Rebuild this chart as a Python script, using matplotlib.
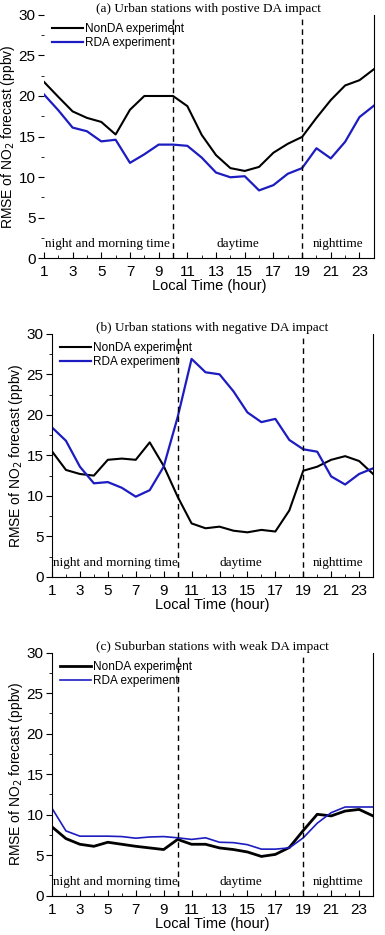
import numpy as np
import matplotlib
matplotlib.use("Agg")
import matplotlib.pyplot as plt
from matplotlib.ticker import MultipleLocator, FixedLocator

# Datos (RMSE de NO2, ppbv)
horas = np.arange(1, 25)
ticks_x = [1, 3, 5, 7, 9, 11, 13, 15, 17, 19, 21, 23]

titulos = ["(a) Urban stations with postive DA impact",
           "(b) Urban stations with negative DA impact",
           "(c) Suburban stations with weak DA impact"]

nonda_a = [21.75, 19.9, 18.1, 17.3, 16.8, 15.25, 18.3, 20.0, 20.0, 20.0, 18.75, 15.2,
           12.7, 11.1, 10.75, 11.25, 13.0, 14.1, 14.95, 17.3, 19.5, 21.3, 21.95, 23.3]
rda_a = [20.2, 18.25, 16.1, 15.65, 14.4, 14.6, 11.75, 12.8, 14.0, 14.0, 13.85, 12.4,
         10.55, 9.97, 10.1, 8.35, 9.0, 10.4, 11.1, 13.55, 12.3, 14.35, 17.4, 18.8]

nonda_b = [15.5, 13.2, 12.7, 12.5, 14.45, 14.6, 14.45, 16.6, 13.7, 9.9, 6.6, 6.0,
           6.2, 5.7, 5.5, 5.8, 5.6, 8.2, 13.1, 13.6, 14.45, 14.9, 14.3, 12.7]
rda_b = [18.45, 16.8, 13.6, 11.55, 11.7, 11.0, 9.9, 10.7, 13.6, 19.7, 26.9, 25.25,
         25.0, 22.9, 20.3, 19.1, 19.5, 16.9, 15.75, 15.45, 12.4, 11.4, 12.7, 13.4]

nonda_c = [8.5, 7.05, 6.35, 6.1, 6.6, 6.35, 6.1, 5.9, 5.7, 6.95, 6.35, 6.35,
           5.9, 5.7, 5.4, 4.85, 5.1, 5.95, 8.05, 10.05, 9.85, 10.45, 10.65, 9.85]
rda_c = [10.8, 8.0, 7.35, 7.35, 7.35, 7.3, 7.1, 7.25, 7.3, 7.15, 6.95, 7.15,
         6.6, 6.55, 6.3, 5.75, 5.75, 5.9, 7.15, 8.95, 10.25, 10.95, 10.95, 10.95]

etiquetas_periodo = ["night and morning time", "daytime", "nighttime"]
limites = [10, 19]

azul = "#1c1cc0"
sans = ["Liberation Sans", "DejaVu Sans"]
serif = ["Liberation Serif", "DejaVu Serif"]

fig = plt.figure(figsize=(3.85, 9.35), dpi=100)

posiciones = [[0.114, 0.724, 0.857, 0.260],
              [0.135, 0.383, 0.834, 0.260],
              [0.135, 0.042, 0.834, 0.260]]
datos = [(nonda_a, rda_a), (nonda_b, rda_b), (nonda_c, rda_c)]
grosor = [(1.5, 1.6), (1.5, 1.6), (2.0, 1.2)]

for k in range(3):
    ax = fig.add_axes(posiciones[k])
    n, r = datos[k]
    ax.plot(horas, n, color="black", lw=grosor[k][0], label="NonDA experiment")
    ax.plot(horas, r, color=azul, lw=grosor[k][1], label="RDA experiment")
    for xl in limites:
        ax.axvline(xl, color="black", lw=1.0, ls=(0, (4, 3)))
    ax.set_xlim(1, 24)
    ax.set_ylim(0, 30)
    ax.xaxis.set_major_locator(FixedLocator(ticks_x))
    ax.xaxis.set_minor_locator(MultipleLocator(1))
    ax.yaxis.set_major_locator(MultipleLocator(5))
    ax.yaxis.set_minor_locator(MultipleLocator(2.5))
    ax.tick_params(axis="x", which="both", direction="in", labelsize=11, pad=5)
    ax.tick_params(axis="x", which="major", length=4)
    ax.tick_params(axis="x", which="minor", length=2.5)
    ax.tick_params(axis="y", which="both", direction="out", labelsize=11, pad=2)
    ax.tick_params(axis="y", which="major", length=4)
    ax.tick_params(axis="y", which="minor", length=2.5)
    for lab in ax.get_xticklabels() + ax.get_yticklabels():
        lab.set_family(sans)
    ax.spines["top"].set_visible(False)
    if k == 0:
        ax.spines["left"].set_visible(False)
    ax.set_xlabel("Local Time (hour)", fontsize=10.5, family=sans, labelpad=0)
    ax.set_ylabel("RMSE of NO$_2$ forecast (ppbv)", fontsize=10, family=sans, labelpad=1)
    ax.set_title(titulos[k], fontsize=9.5, family=serif, pad=2)
    ax.text(1.1, 1.0, etiquetas_periodo[0], fontsize=9.5, family=serif, va="bottom", ha="left")
    ax.text(14.5, 1.0, etiquetas_periodo[1], fontsize=9.5, family=serif, va="bottom", ha="center")
    ax.text(21.5, 1.0, etiquetas_periodo[2], fontsize=9.5, family=serif, va="bottom", ha="center")
    leg = ax.legend(loc="upper left", frameon=False, handlelength=2.6,
                    handletextpad=0.2, borderaxespad=0.3, labelspacing=0.15,
                    prop={"family": sans, "size": 8.5})

fig.savefig("out.png", dpi=100)
